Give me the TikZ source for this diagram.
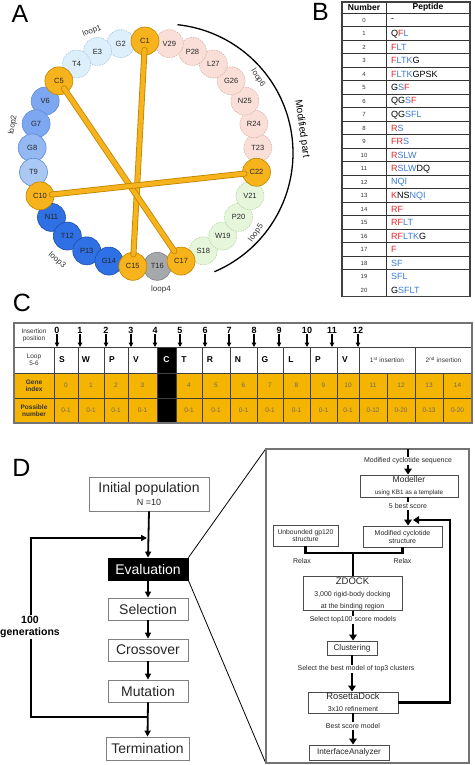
\documentclass[tikz,border=0pt]{standalone}
\usepackage{fontspec}
\setmainfont{Liberation Sans}
\usetikzlibrary{calc,arrows.meta}
\definecolor{cys}{HTML}{F6B31B}
\definecolor{cysd}{HTML}{BF8500}
\definecolor{laF}{HTML}{DDEFFB}
\definecolor{laD}{HTML}{A8C8E4}
\definecolor{lbF}{HTML}{7DA7F0}
\definecolor{lbFb}{HTML}{93B8F2}
\definecolor{lbFc}{HTML}{AAC8F4}
\definecolor{lbD}{HTML}{5F8AD6}
\definecolor{lcF}{HTML}{2F70E4}
\definecolor{lcD}{HTML}{1D4EA8}
\definecolor{ldF}{HTML}{A6A9AC}
\definecolor{ldD}{HTML}{7D8083}
\definecolor{leF}{HTML}{E5F6DB}
\definecolor{leD}{HTML}{B6D6A5}
\definecolor{lfF}{HTML}{F9DFD7}
\definecolor{lfD}{HTML}{D9B2A6}
\definecolor{pepred}{HTML}{E8252B}
\definecolor{pepblue}{HTML}{3A7BD8}
\definecolor{gold}{HTML}{F5B400}
\definecolor{celltxt}{HTML}{6A6A6A}
\newcommand{\fsz}[2]{\fontsize{#1}{#2}\selectfont}
\newcommand{\pepR}[1]{\textcolor{pepred}{#1}}
\newcommand{\pepB}[1]{\textcolor{pepblue}{#1}}
\begin{document}
\begin{tikzpicture}[x=1pt,y=-1pt,
  bead/.style={circle,minimum size=28pt,inner sep=0pt,font=\fsz{7.5}{9},text=black!85,line width=0.6pt},
  la/.style={fill=laF,draw=laD,dash pattern=on 1.5pt off 1pt},
  lb/.style={fill=lbF,draw=lbD},
  lbb/.style={fill=lbFb,draw=lbD},
  lbc/.style={fill=lbFc,draw=lbD},
  lc/.style={fill=lcF,draw=lcD},
  ld/.style={fill=ldF,draw=ldD},
  le/.style={fill=leF,draw=leD,dash pattern=on 1.5pt off 1pt},
  lf/.style={fill=lfF,draw=lfD,dash pattern=on 1.5pt off 1pt},
  cy/.style={fill=cys,draw=cysd},
  bondo/.style={line width=6pt,cysd,line cap=round},
  bondi/.style={line width=4.4pt,cys,line cap=round},
  plab/.style={font=\fsz{25}{28},inner sep=0pt},
  looplab/.style={font=\fsz{8}{9},text=black!80,inner sep=0pt},
  numc/.style={font=\fsz{6}{7},text=black!80,inner sep=0pt},
  pep/.style={font=\fsz{9}{10},anchor=west,inner sep=0pt},
  cline/.style={black!75,line width=0.6pt},
  insnum/.style={font=\bfseries\fsz{9}{10},inner sep=0.5pt},
  insarrow/.style={line width=1.3pt,-{Triangle[length=4.5pt,width=4.5pt]}},
  lett/.style={font=\bfseries\fsz{8.5}{10},inner sep=0pt},
  ctxt/.style={font=\fsz{6.5}{7.5},text=celltxt,inner sep=0pt},
  rowlab/.style={font=\bfseries\fsz{6.5}{7},text=black!80,align=center,inner sep=0pt},
  dbox/.style={draw=black!50,line width=0.8pt,minimum width=80pt,minimum height=22pt,inner sep=1pt,font=\fsz{14}{16},text=black!85},
  darrow/.style={line width=1.8pt,-{Triangle[length=6pt,width=6pt]}},
  fbox/.style={draw=black!70,line width=0.9pt,fill=white,inner sep=1pt,align=center,text=black!85},
  ftxt/.style={font=\fsz{7}{8},text=black!85,inner sep=1pt},
  fthick/.style={line width=2.6pt},
  farrow/.style={line width=2.6pt,-{Triangle[length=6pt,width=7.5pt]}}
]
\useasboundingbox (0,0) rectangle (474,765);
% ---------------- Panel A ----------------
\node[plab] (labA) at (20,14) {A};
\foreach \k/\t in {2/G2,3/E3,4/T4}
  \node[bead,la] (b\k) at ({145+113*cos(90+12.414*(\k-1))},{154-113*sin(90+12.414*(\k-1))}) {\t};
\foreach \k/\t in {6/V6,7/G7}
  \node[bead,lb] (b\k) at ({145+113*cos(90+12.414*(\k-1))},{154-113*sin(90+12.414*(\k-1))}) {\t};
\node[bead,lbb] (b8) at ({145+113*cos(90+12.414*7)},{154-113*sin(90+12.414*7)}) {G8};
\node[bead,lbc] (b9) at ({145+113*cos(90+12.414*8)},{154-113*sin(90+12.414*8)}) {T9};
\foreach \k/\t in {11/N11,12/T12,13/P13,14/G14}
  \node[bead,lc] (b\k) at ({145+113*cos(90+12.414*(\k-1))},{154-113*sin(90+12.414*(\k-1))}) {\t};
\node[bead,ld] (b16) at ({145+113*cos(90+12.414*15)},{154-113*sin(90+12.414*15)}) {T16};
\foreach \k/\t in {18/S18,19/W19,20/P20,21/V21}
  \node[bead,le] (b\k) at ({145+113*cos(90+12.414*(\k-1))},{154-113*sin(90+12.414*(\k-1))}) {\t};
\foreach \k/\t in {23/T23,24/R24,25/N25,26/G26,27/L27,28/P28,29/V29}
  \node[bead,lf] (b\k) at ({145+113*cos(90+12.414*(\k-1))},{154-113*sin(90+12.414*(\k-1))}) {\t};
\foreach \k/\t in {1/C1,5/C5,10/C10,15/C15,17/C17,22/C22}
  \node[bead,cy] (b\k) at ({145+113*cos(90+12.414*(\k-1))},{154-113*sin(90+12.414*(\k-1))}) {\t};
% disulfide bonds
\draw[bondo] ($(b1)!9pt!(b15)$) -- ($(b15)!12pt!(b1)$);
\draw[bondi] ($(b1)!9pt!(b15)$) -- ($(b15)!12pt!(b1)$);
\draw[bondo] ($(b5)!9pt!(b17)$) -- ($(b17)!12pt!(b5)$);
\draw[bondi] ($(b5)!9pt!(b17)$) -- ($(b17)!12pt!(b5)$);
\draw[bondo] ($(b10)!12pt!(b22)$) -- ($(b22)!12pt!(b10)$);
\draw[bondi] ($(b10)!12pt!(b22)$) -- ($(b22)!12pt!(b10)$);
% loop labels
\node[looplab,rotate=20] (lp1) at (92,31) {loop1};
\node[looplab,rotate=80] (lp2) at (13,125) {loop2};
\node[looplab,rotate=-40] (lp3) at (57,260) {loop3};
\node[looplab] (lp4) at (161,289) {loop4};
\node[looplab,rotate=55] (lp5) at (256,233) {loop5};
\node[looplab,rotate=-58] (lp6) at (258,78) {loop6};
\draw[line width=1.3pt] plot[domain=-67:84,samples=80] ({164+129*cos(\x)},{153-129*sin(\x)});
\node[font=\fsz{10}{11},inner sep=0pt,rotate=-82] (modp) at (302,129) {Modified part};
% ---------------- Panel B ----------------
\node[plab] (labB) at (320.5,11.5) {B};
\foreach \i in {0,...,19}
  \draw[black!80,line width=0.7pt] (342,{13.3+13.5*\i}) -- (470,{13.3+13.5*\i});
\draw[black!80,line width=0.9pt] (386,2) -- (386,296.8);
\draw[black!75,line width=1.2pt] (342,2) rectangle (470,296.8);
\node[font=\bfseries\fsz{8.5}{9},inner sep=0pt] (hN) at (364,7.8) {Number};
\node[font=\bfseries\fsz{8.5}{9},inner sep=0pt] (hP) at (428,7.8) {Peptide};
\foreach \i in {0,...,20}
  \node[numc] (n\i) at (364,{20.1+13.5*\i}) {\i};
\foreach \i/\p in {0/-,1/Q\pepR{F}\pepB{L},2/\pepR{F}\pepB{LT},3/\pepR{F}\pepB{LTK}G,
  4/\pepR{F}\pepB{LTK}GPSK,5/G\pepB{S}\pepR{F},6/QG\pepB{S}\pepR{F},7/QG\pepB{SFL},
  8/\pepR{R}\pepB{S},9/\pepR{FR}\pepB{S},10/\pepR{R}\pepB{SLW},11/\pepR{R}\pepB{SLW}DQ,
  12/\pepB{NQI},13/\pepR{K}NS\pepB{NQI},14/\pepR{RF},15/\pepR{RF}\pepB{LT},
  16/\pepR{RF}\pepB{LTK}G,17/\pepR{F},18/\pepB{SF},19/\pepB{SFL},20/G\pepB{SFLT}}
  \node[pep] (p\i) at (391,{20.3+13.5*\i}) {\p};
% ---------------- Panel C ----------------
\node[plab] (labC) at (22,303) {C};
\fill[gold] (14,373) rectangle (472,423);
\fill[black] (157,347) rectangle (176,423);
\foreach \y in {347,373,398} \draw[cline] (14,\y) -- (472,\y);
\foreach \x in {54,78,104,128,157,176,202,230,257,283,310,337,359,415}
  \draw[cline] (\x,347) -- (\x,373);
\foreach \x in {54,78,104,128,157,176,202,230,257,283,310,337,359,387,415,443}
  \draw[cline] (\x,373) -- (\x,423);
\draw[black!55,line width=1.3pt] (14,323) rectangle (472,423);
\node[rowlab,font=\fsz{6.5}{7}] (rl1) at (34,335) {Insertion\\position};
\node[rowlab,font=\fsz{6.5}{7}] (rl2) at (34,360) {Loop\\5-6};
\node[rowlab] (rl3) at (34,385.5) {Gene\\index};
\node[rowlab] (rl4) at (34,410.5) {Possible\\number};
\foreach \n/\x in {0/57,1/80,2/106,3/131,4/155,5/180,6/205,7/229,8/254,9/279,10/307,11/332,12/358}{
  \node[insnum] (in\n) at (\x,330.5) {\n};
  \coordinate (it\n) at (\x,347);
  \draw[insarrow] (in\n.south) -- (it\n);
}
\foreach \x/\l [count=\i] in {54/S,78/W,104/P,128/V,176/T,202/R,230/N,257/G,283/L,310/P,337/V}
  \node[lett] (lt\i) at (\x+8,360) {\l};
\node[lett,text=white] (ltC) at (166.5,360) {C};
\node[ctxt,text=black!80] (ins1) at (387,360) {1\textsuperscript{st} insertion};
\node[ctxt,text=black!80] (ins2) at (443.5,360) {2\textsuperscript{nd} insertion};
\foreach \l/\r/\g/\p in {54/78/0/0-1,78/104/1/0-1,104/128/2/0-1,128/157/3/0-1,176/202/4/0-1,
  202/230/5/0-1,230/257/6/0-1,257/283/7/0-1,283/310/8/0-1,310/337/9/0-1,337/359/10/0-1,
  359/387/11/0-12,387/415/12/0-20,415/443/13/0-13,443/472/14/0-20}{
  \node[ctxt] (g\g) at ({(\l+\r)/2},385.5) {\g};
  \node[ctxt] (pn\g) at ({(\l+\r)/2},410.5) {\p};
}
% ---------------- Panel D ----------------
\node[plab] (labD) at (21.5,467.5) {D};
\node[dbox,minimum width=120pt,minimum height=34pt,align=center] (init) at (149,494) {Initial population\\[-3pt]{\fsz{9}{10}N =10}};
\node[dbox,fill=black,draw=black,text=white] (eval) at (148,569) {Evaluation};
\node[dbox] (sel) at (148,609) {Selection};
\node[dbox] (cro) at (148,650) {Crossover};
\node[dbox] (mut) at (148,691) {Mutation};
\node[dbox,minimum width=83pt,minimum height=23pt] (term) at (147.5,748.5) {Termination};
\draw[darrow] (init.south) -- (eval.north);
\draw[darrow] (eval.south) -- (sel.north);
\draw[darrow] (sel.south) -- (cro.north);
\draw[darrow] (cro.south) -- (mut.north);
\draw[darrow] (mut.south) -- (term.north);
\coordinate (j1) at (148,717);
\coordinate (lc1) at (31,717);
\coordinate (lc2) at (31,538);
\coordinate (lc3) at (147,538);
\draw[darrow] (j1) -- (lc1) -- (lc2) -- (lc3);
\node[font=\bfseries\fsz{10.5}{12},fill=white,align=center,inner sep=1pt] (gen) at (30,627) {100\\generations};
% zoom box
\node[minimum width=203pt,minimum height=314pt,inner sep=0pt] (zbox) at (367.5,606) {};
\draw[line width=0.8pt] (eval.north east) -- (zbox.north west);
\draw[line width=0.8pt] (eval.south east) -- (zbox.south west);
\draw[black!55,line width=1.8pt] (zbox.north west) rectangle (zbox.south east);
\coordinate (ztop) at (408,449);
\node[ftxt] (msq) at (408,461) {Modified cyclotide sequence};
\node[fbox,minimum width=98pt,minimum height=22pt] (modeller) at (409,486) {{\fsz{8.5}{9}Modeller}\\{\fsz{6.3}{7}using KB1 as a template}};
\node[ftxt] (best5) at (408,506) {5 best score};
\node[fbox,minimum width=79pt,minimum height=21pt,font=\fsz{7}{8}] (mstr) at (402.5,536.5) {Modified cyclotide\\structure};
\node[fbox,minimum width=65pt,minimum height=21pt,font=\fsz{6.8}{7.8}] (unb) at (305.5,535.5) {Unbounded gp120\\structure};
\coordinate (bm) at (353,553);
\node[ftxt] (rx1) at (302,561) {Relax};
\node[ftxt] (rx2) at (402.5,561) {Relax};
\node[fbox,minimum width=99pt,minimum height=33pt] (zdock) at (352.5,593.5) {{\fsz{9.5}{10}ZDOCK}\\{\fsz{7}{8}3,000 rigid-body docking}\\{\fsz{7}{8}at the binding region}};
\node[ftxt] (s100) at (353,620) {Select top100 score models};
\node[fbox,minimum width=50pt,minimum height=14pt,font=\fsz{8.2}{9}] (clus) at (352,648) {Clustering};
\node[ftxt] (sbest) at (356,669) {Select the best model of top3 clusters};
\node[fbox,minimum width=90pt,minimum height=21pt] (ros) at (353,702.5) {{\fsz{9.3}{10}RosettaDock}\\{\fsz{7}{8}3x10 refinement}};
\node[ftxt] (bsm) at (353,726) {Best score model};
\node[fbox,minimum width=80pt,minimum height=15pt,font=\fsz{8.2}{9}] (ia) at (349,752.5) {InterfaceAnalyzer};
\draw[fthick] (ztop) -- (msq.north);
\draw[farrow] (msq.south) -- (msq.south |- modeller.north);
\draw[fthick] (best5.north |- modeller.south) -- (best5.north);
\draw[farrow] (best5.south) -- (best5.south |- mstr.north);
\draw[fthick] (unb.south) |- (bm) -| (mstr.south);
\draw[fthick] (bm) -- (bm |- zdock.north);
\draw[fthick] (s100.north |- zdock.south) -- (s100.north);
\draw[farrow] (s100.south) -- (s100.south |- clus.north);
\draw[fthick] (clus.south) -- (clus.south |- sbest.north);
\draw[farrow] (clus.south |- sbest.south) -- (clus.south |- ros.north);
\draw[fthick] (bsm.north |- ros.south) -- (bsm.north);
\draw[farrow] (bsm.south) -- (bsm.south |- ia.north);
\coordinate (fb2) at (450,520);
\coordinate (fb3) at (413,520);
\draw[farrow] (ros.east) -| (fb2) -- (fb3);
\end{tikzpicture}
\end{document}
